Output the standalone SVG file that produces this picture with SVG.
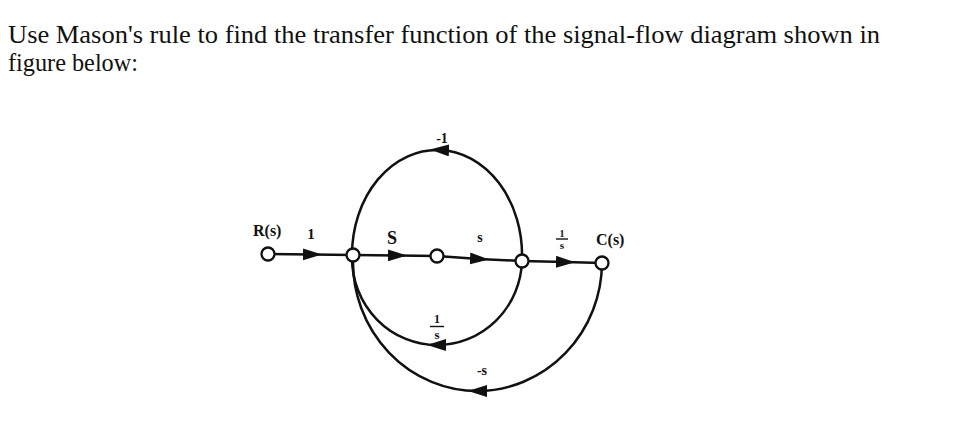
<svg xmlns="http://www.w3.org/2000/svg" width="955" height="445" viewBox="0 0 955 445">
<style>
.title{font-family:"Liberation Serif","Times New Roman",serif;font-size:25px;fill:#111}
.lbl{font-family:"Liberation Serif","Times New Roman",serif;font-weight:bold;fill:#111}
.edge{fill:none;stroke:#111;stroke-width:2.5}
.node{fill:#fff;stroke:#111;stroke-width:2.3}
.bar{stroke:#111;stroke-width:1.4}
</style>
<defs>
<marker id="arr" markerUnits="userSpaceOnUse" markerWidth="22" markerHeight="14" refX="9" refY="6" orient="auto">
<path d="M0,0 L19,6 L0,12 z" fill="#111"/>
</marker>
</defs>
<rect width="955" height="445" fill="#fff"/>
<text class="title" x="8" y="43" textLength="872" lengthAdjust="spacingAndGlyphs">Use Mason's rule to find the transfer function of the signal-flow diagram shown in</text>
<text class="title" x="8" y="71" textLength="130" lengthAdjust="spacingAndGlyphs">figure below:</text>

<g id="connectors">
<path id="e-r-n2" class="edge" marker-mid="url(#arr)" d="M268 254 L312 254.5 L353 255"/>
<path id="e-n2-n3" class="edge" marker-mid="url(#arr)" d="M353 255 L397 255.5 L437 256"/>
<path id="e-n3-n4" class="edge" marker-mid="url(#arr)" d="M437 256 L479 259 L522 261"/>
<path id="e-n4-c" class="edge" marker-mid="url(#arr)" d="M522 261 L565 262 L602 263"/>
<path id="e-top" class="edge" marker-mid="url(#arr)" d="M522 258 A85 105 0 0 0 440 150 A85 105 0 0 0 352 255"/>
<path id="e-inv" class="edge" marker-mid="url(#arr)" d="M522 261 A85 87 0 0 1 437 345 A85 87 0 0 1 352 258"/>
<path id="e-fb" class="edge" marker-mid="url(#arr)" d="M602 263 A125 129 0 0 1 478 391 A125 129 0 0 1 353 260"/>
</g>

<g id="node-R"><circle class="node" cx="268" cy="254" r="6.5"/></g>
<g id="node-2"><circle class="node" cx="353" cy="255" r="6.5"/></g>
<g id="node-3"><circle class="node" cx="437" cy="256" r="6.5"/></g>
<g id="node-4"><circle class="node" cx="522" cy="261" r="6.5"/></g>
<g id="node-C"><circle class="node" cx="602" cy="263" r="6.5"/></g>

<g id="labels">
<text class="lbl" x="253" y="236" font-size="16">R(s)</text>
<text class="lbl" x="311" y="239" font-size="15" text-anchor="middle">1</text>
<text class="lbl" x="392" y="244" font-size="18" text-anchor="middle">S</text>
<text class="lbl" x="480" y="242" font-size="14" text-anchor="middle">s</text>
<text class="lbl" x="562" y="236.5" font-size="10" text-anchor="middle">1</text>
<line class="bar" x1="556" y1="239" x2="568" y2="239"/>
<text class="lbl" x="562" y="248.5" font-size="11" text-anchor="middle">s</text>
<text class="lbl" x="596" y="245" font-size="16">C(s)</text>
<text class="lbl" x="442" y="143" font-size="14" text-anchor="middle">-1</text>
<text class="lbl" x="437" y="323" font-size="12" text-anchor="middle">1</text>
<line class="bar" x1="430" y1="326.5" x2="444" y2="326.5"/>
<text class="lbl" x="437" y="338.5" font-size="13" text-anchor="middle">s</text>
<text class="lbl" x="482" y="375" font-size="14" text-anchor="middle">-s</text>
</g>
</svg>
